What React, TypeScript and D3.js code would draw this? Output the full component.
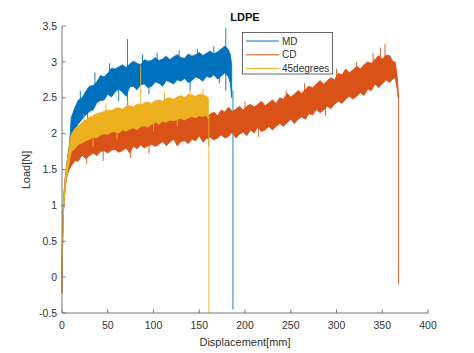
import React from "react";
import * as d3 from "d3";

// [displacement, lower envelope, upper envelope] of each noisy trace
const mdBand: [number, number, number][] = [
  [0, -0.22, 0.02], [0.5, 0.35, 0.5], [1, 0.7, 0.85], [1.5, 0.9, 1.02], [2.5, 1.1, 1.22], [3.5, 1.25, 1.38],
  [5, 1.4, 1.55], [6.5, 1.52, 1.7], [8, 1.65, 1.85], [9, 1.8, 2.0], [10, 1.95, 2.22],
  [14, 2.06, 2.36], [18, 2.14, 2.47], [22, 2.2, 2.5], [26, 2.26, 2.59], [30, 2.31, 2.66], [34, 2.33, 2.67],
  [38, 2.43, 2.72], [42, 2.46, 2.81], [46, 2.47, 2.79], [50, 2.55, 2.84], [54, 2.51, 2.91], [58, 2.58, 2.9],
  [62, 2.62, 2.93], [66, 2.58, 2.96], [70, 2.52, 2.92], [74, 2.65, 2.97], [78, 2.66, 3.01], [82, 2.61, 2.98],
  [86, 2.68, 2.96], [90, 2.69, 3.03], [94, 2.64, 3.01], [98, 2.66, 3.02], [102, 2.72, 3.06], [106, 2.7, 3.02],
  [110, 2.66, 3.04], [114, 2.74, 3.08], [118, 2.72, 3.03], [122, 2.69, 3.07], [126, 2.75, 3.1], [130, 2.73, 3.06],
  [134, 2.77, 3.05], [138, 2.71, 3.11], [142, 2.74, 3.08], [146, 2.79, 3.1], [150, 2.77, 3.13], [154, 2.73, 3.09],
  [158, 2.8, 3.12], [162, 2.78, 3.15], [166, 2.82, 3.11], [170, 2.76, 3.14], [174, 2.8, 3.18], [178, 2.85, 3.22],
  [182, 2.79, 3.17], [184, 2.7, 3.1], [185.5, 2.5, 2.95],
];

const cdBand: [number, number, number][] = [
  [0, -0.22, 0.02], [0.5, 0.35, 0.5], [1, 0.7, 0.85], [1.5, 0.9, 1.02], [2.5, 1.1, 1.22], [3.5, 1.25, 1.36],
  [5, 1.38, 1.5], [6.5, 1.45, 1.6], [8, 1.5, 1.68], [9, 1.52, 1.72], [10, 1.55, 1.75],
  [14, 1.62, 1.86], [18, 1.62, 1.86], [22, 1.7, 1.92], [26, 1.65, 1.99], [30, 1.69, 1.93], [34, 1.73, 1.99],
  [38, 1.69, 2.02], [42, 1.75, 1.98], [46, 1.76, 2.04], [50, 1.73, 2.02], [54, 1.77, 2.09], [58, 1.78, 2.01],
  [62, 1.74, 2.05], [66, 1.76, 2.07], [70, 1.8, 2.03], [74, 1.73, 2.08], [78, 1.82, 2.09], [82, 1.79, 2.07],
  [86, 1.84, 2.11], [90, 1.8, 2.15], [94, 1.83, 2.1], [98, 1.85, 2.14], [102, 1.82, 2.17], [106, 1.85, 2.12],
  [110, 1.89, 2.2], [114, 1.83, 2.17], [118, 1.88, 2.24], [122, 1.92, 2.18], [126, 1.83, 2.21], [130, 1.89, 2.24],
  [134, 1.9, 2.19], [138, 1.86, 2.24], [142, 1.92, 2.27], [146, 1.9, 2.22], [150, 1.97, 2.26], [154, 1.88, 2.3],
  [158, 1.93, 2.24], [162, 1.95, 2.27], [166, 1.91, 2.3], [170, 1.94, 2.25], [174, 1.98, 2.33], [178, 1.94, 2.3],
  [182, 1.96, 2.37], [186, 2.02, 2.31], [190, 1.94, 2.34], [194, 1.99, 2.38], [198, 2.02, 2.33], [202, 1.97, 2.38],
  [206, 2.05, 2.41], [210, 2.01, 2.37], [214, 2.09, 2.41], [218, 2.03, 2.45], [222, 2.05, 2.39], [226, 2.1, 2.43],
  [230, 2.05, 2.47], [234, 2.1, 2.42], [238, 2.14, 2.5], [242, 2.1, 2.48], [246, 2.15, 2.56], [250, 2.2, 2.51],
  [254, 2.14, 2.55], [258, 2.2, 2.6], [262, 2.23, 2.56], [266, 2.2, 2.62], [270, 2.28, 2.66], [274, 2.26, 2.64],
  [278, 2.34, 2.69], [282, 2.29, 2.74], [286, 2.33, 2.69], [290, 2.38, 2.74], [294, 2.35, 2.78], [298, 2.41, 2.75],
  [302, 2.45, 2.84], [306, 2.42, 2.82], [310, 2.48, 2.9], [314, 2.52, 2.85], [318, 2.48, 2.89], [322, 2.52, 2.94],
  [326, 2.57, 2.9], [330, 2.53, 2.96], [334, 2.62, 3.0], [338, 2.6, 2.98], [342, 2.69, 3.03], [346, 2.64, 3.09],
  [350, 2.69, 3.04], [354, 2.75, 3.09], [358, 2.71, 3.09], [362, 2.77, 3.0], [364, 2.78, 3.0], [366, 2.65, 2.85],
  [367.5, 2.5, 2.6],
];

const degBand: [number, number, number][] = [
  [0, -0.22, 0.02], [0.5, 0.35, 0.5], [1, 0.7, 0.85], [1.5, 0.9, 1.02], [2.5, 1.1, 1.22], [3.5, 1.25, 1.38],
  [5, 1.4, 1.55], [6.5, 1.5, 1.68], [8, 1.6, 1.82], [9, 1.68, 1.92], [10, 1.74, 1.98],
  [14, 1.79, 2.07], [18, 1.85, 2.11], [22, 1.87, 2.16], [26, 1.9, 2.19], [30, 1.92, 2.23], [34, 1.95, 2.25],
  [38, 1.94, 2.28], [42, 1.98, 2.29], [46, 2.0, 2.31], [50, 1.99, 2.33], [54, 2.02, 2.32], [58, 2.03, 2.35],
  [62, 2.01, 2.36], [66, 2.05, 2.34], [70, 2.04, 2.38], [74, 2.06, 2.39], [78, 2.08, 2.37], [82, 2.05, 2.41],
  [86, 2.1, 2.4], [90, 2.11, 2.43], [94, 2.09, 2.44], [98, 2.13, 2.42], [102, 2.16, 2.46], [106, 2.14, 2.47],
  [110, 2.17, 2.45], [114, 2.16, 2.49], [118, 2.19, 2.5], [122, 2.18, 2.48], [126, 2.2, 2.51], [130, 2.21, 2.53],
  [134, 2.19, 2.5], [138, 2.22, 2.55], [142, 2.24, 2.54], [146, 2.22, 2.52], [150, 2.25, 2.55], [154, 2.24, 2.54],
  [158, 2.26, 2.52], [160, 2.2, 2.5],
];

// isolated noise spikes [x, from, to]
const mdSpikes: [number, number, number][] = [
  [71.5, 2.35, 3.32], [179, 2.6, 3.47], [20, 2.3, 2.6], [36, 2.45, 2.85], [52, 2.6, 2.98], [88, 2.75, 3.1],
  [104, 2.8, 3.13], [128, 2.85, 3.16], [148, 2.9, 3.18], [166, 2.9, 3.22], [28, 2.1, 2.4], [62, 2.45, 2.7],
  [95, 2.55, 2.8], [140, 2.6, 2.9], [172, 2.7, 2.95],
];
const cdSpikes: [number, number, number][] = [
  [27, 1.58, 1.8], [45, 1.62, 1.8], [75, 1.66, 1.85], [340, 2.8, 3.12], [348, 2.9, 3.2], [353, 2.9, 3.25],
  [60, 1.9, 2.13], [118, 2.0, 2.28], [200, 2.2, 2.45], [245, 2.3, 2.6], [265, 2.4, 2.7], [300, 2.6, 2.9],
  [322, 2.7, 3.0], [95, 1.72, 1.95], [160, 1.83, 2.05], [215, 1.95, 2.2], [288, 2.25, 2.5],
];
const degSpikes: [number, number, number][] = [
  [86, 2.3, 2.95], [140, 2.3, 2.62], [24, 1.95, 2.27], [48, 2.1, 2.42], [72, 2.15, 2.47], [112, 2.3, 2.58],
  [154, 2.35, 2.62], [34, 1.82, 2.1], [60, 1.92, 2.2], [100, 2.03, 2.3], [126, 2.1, 2.35],
];

// failure drop lines [x, from, to]
const mdDrop: [number, number, number] = [186.8, 2.6, -0.45];
const cdDrop: [number, number, number] = [367.8, 2.55, -0.1];
const degDrop: [number, number, number] = [160.5, 2.25, -0.5];

const xTicks = [0, 50, 100, 150, 200, 250, 300, 350, 400];
const yTicks = [-0.5, 0, 0.5, 1, 1.5, 2, 2.5, 3, 3.5];
const legendLabels = ["MD", "CD", "45degrees"];
const colors = ["#0072BD", "#D95319", "#EDB120"];

const FONT = "'Liberation Sans', Arial, sans-serif";

export default function App() {
  const x = d3.scaleLinear().domain([0, 400]).range([62, 428]);
  const y = d3.scaleLinear().domain([-0.5, 3.5]).range([313, 26]);
  const area = d3
    .area<[number, number, number]>()
    .x((d) => x(d[0]))
    .y0((d) => y(d[1]))
    .y1((d) => y(d[2]));

  const series = [
    { band: mdBand, spikes: mdSpikes, drop: mdDrop, color: colors[0] },
    { band: cdBand, spikes: cdSpikes, drop: cdDrop, color: colors[1] },
    { band: degBand, spikes: degSpikes, drop: degDrop, color: colors[2] },
  ];

  const axisColor = "#777";
  const textColor = "#333";

  return (
    <svg
      width={474}
      height={353}
      style={{ position: "absolute", left: 0, top: 0, background: "#fff" }}
      fontFamily={FONT}
    >
      {series.map((s, i) => (
        <g key={i}>
          <path d={area(s.band) || ""} fill={s.color} stroke={s.color} strokeWidth={0.8} strokeLinejoin="miter" />
          {s.spikes.map((sp, j) => (
            <line key={j} x1={x(sp[0])} x2={x(sp[0])} y1={y(sp[1])} y2={y(sp[2])} stroke={s.color} strokeWidth={0.9} />
          ))}
          <line x1={x(s.drop[0])} x2={x(s.drop[0])} y1={y(s.drop[1])} y2={y(s.drop[2])} stroke={s.color} strokeWidth={1} opacity={0.85} />
        </g>
      ))}

      {/* axes */}
      <line x1={x(0)} x2={x(400)} y1={y(-0.5)} y2={y(-0.5)} stroke={axisColor} strokeWidth={1} />
      <line x1={x(0)} x2={x(0)} y1={y(-0.5)} y2={y(3.5)} stroke={axisColor} strokeWidth={1} />
      {xTicks.map((t) => (
        <g key={t}>
          <line x1={x(t)} x2={x(t)} y1={y(-0.5)} y2={y(-0.5) - 3.5} stroke={axisColor} />
          <text x={x(t)} y={329} textAnchor="middle" fontSize={10.5} fill={textColor}>
            {t}
          </text>
        </g>
      ))}
      {yTicks.map((t) => (
        <g key={t}>
          <line x1={x(0)} x2={x(0) + 3.5} y1={y(t)} y2={y(t)} stroke={axisColor} />
          <text x={57} y={y(t) + 3.7} textAnchor="end" fontSize={10.5} fill={textColor}>
            {t}
          </text>
        </g>
      ))}

      <text x={245} y={346} textAnchor="middle" fontSize={11} fill={textColor}>
        Displacement[mm]
      </text>
      <text transform="translate(30,170) rotate(-90)" textAnchor="middle" fontSize={11} fill={textColor}>
        Load[N]
      </text>
      <text x={245} y={21} textAnchor="middle" fontSize={11} fontWeight="bold" fill="#111">
        LDPE
      </text>

      {/* legend */}
      <rect x={242.5} y={32.5} width={90} height={41.5} fill="#fff" stroke="#444" strokeWidth={0.8} />
      {legendLabels.map((l, i) => (
        <g key={l}>
          <line x1={246} x2={279} y1={41 + i * 13.8} y2={41 + i * 13.8} stroke={colors[i]} strokeWidth={1} />
          <text x={282} y={44.5 + i * 13.8} fontSize={10} fill={textColor}>
            {l}
          </text>
        </g>
      ))}
    </svg>
  );
}
